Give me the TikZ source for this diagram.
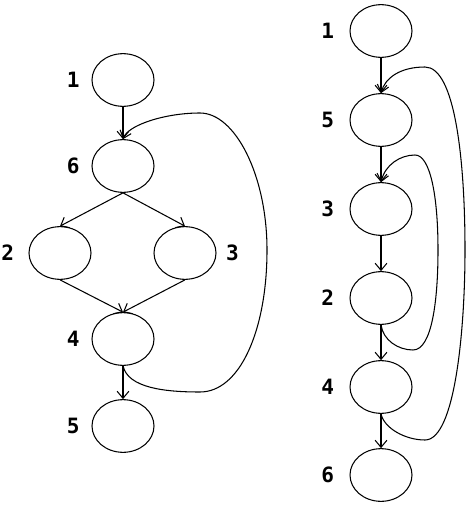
\documentclass[tikz,border=0pt]{standalone}
\usepackage{fontspec}
\newfontfamily\digitfont{DejaVu Sans Mono}
\usetikzlibrary{arrows.meta,shapes.geometric}

\begin{document}
\begin{tikzpicture}[x=0.03cm,y=-0.03cm,
  blk/.style={ellipse,draw,line width=0.9pt,minimum width=1.86cm,minimum height=1.58cm,inner sep=0pt},
  lab/.style={font=\digitfont\bfseries\fontsize{18}{18}\selectfont,inner sep=0pt},
  flow/.style={-{Straight Barb[length=6pt,width=10pt]},line width=0.9pt}
]
  \useasboundingbox (0,0) rectangle (467,510);

  \node[blk,label={[lab,label distance=10pt]left:1}](a1) at (123,80)  {};
  \node[blk,label={[lab,label distance=10pt]left:6}](a6) at (123,166) {};
  \node[blk,label={[lab,label distance=12pt]left:2}](a2) at (60,253)  {};
  \node[blk,label={[lab,label distance=8pt]right:3}](a3) at (185,253) {};
  \node[blk,label={[lab,label distance=10pt]left:4}](a4) at (123,339) {};
  \node[blk,label={[lab,label distance=10pt]left:5}](a5) at (123,426) {};

  \node[blk,label={[lab,label distance=13pt]left:1}](b1) at (381,31)  {};
  \node[blk,label={[lab,label distance=13pt]left:5}](b5) at (381,120) {};
  \node[blk,label={[lab,label distance=13pt]left:3}](b3) at (381,209) {};
  \node[blk,label={[lab,label distance=13pt]left:2}](b2) at (381,298) {};
  \node[blk,label={[lab,label distance=13pt]left:4}](b4) at (381,387) {};
  \node[blk,label={[lab,label distance=13pt]left:6}](b6) at (381,475) {};

  \draw[flow](a1.south)--(a6.north);
  \draw[flow](a6.south)--(a2.north);
  \draw[flow](a6.south)--(a3.north);
  \draw[flow](a2.south)--(a4.north);
  \draw[flow](a3.south)--(a4.north);
  \draw[flow](a4.south)--(a5.north);
  \draw[flow](a4.south) .. controls (128,388) and (165,392) .. (200,392)
      .. controls (240,392) and (267,330) .. (267,250)
      .. controls (267,175) and (235,113) .. (200,113)
      .. controls (165,113) and (128,125) .. (a6.north);

  \draw[flow](b1.south)--(b5.north);
  \draw[flow](b5.south)--(b3.north);
  \draw[flow](b3.south)--(b2.north);
  \draw[flow](b2.south)--(b4.north);
  \draw[flow](b4.south)--(b6.north);
  \draw[flow](b2.south) .. controls (383,340) and (398,350) .. (413,350)
      .. controls (432,350) and (438,300) .. (438,250)
      .. controls (438,195) and (430,155) .. (415,155)
      .. controls (400,155) and (385,165) .. (b3.north);
  \draw[flow](b4.south) .. controls (384,428) and (405,440) .. (425,440)
      .. controls (455,440) and (465,330) .. (465,250)
      .. controls (465,160) and (455,67) .. (425,67)
      .. controls (400,67) and (385,78) .. (b5.north);
\end{tikzpicture}
\end{document}
